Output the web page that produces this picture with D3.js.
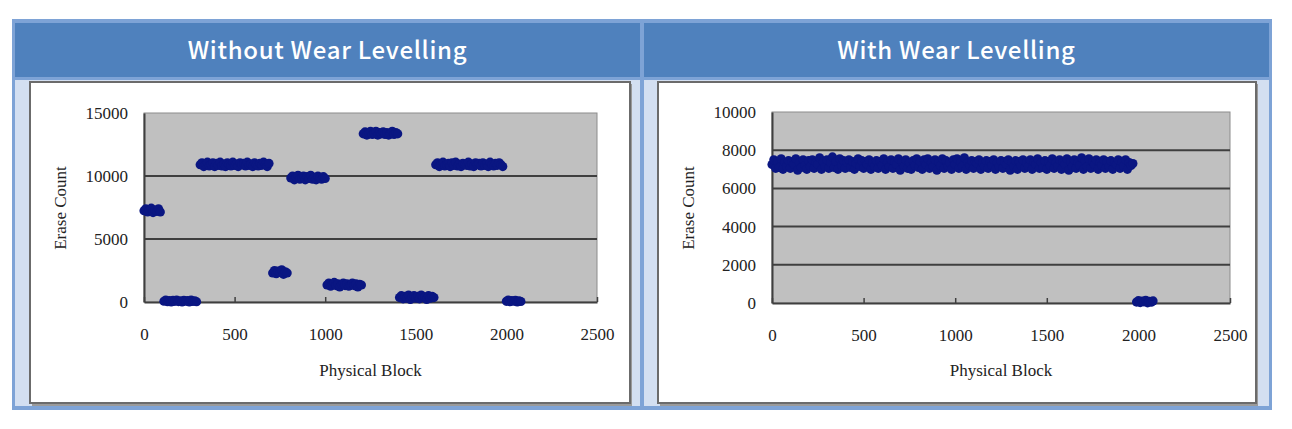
<!DOCTYPE html>
<html>
<head>
<meta charset="utf-8">
<script src="https://cdn.jsdelivr.net/npm/d3@7"></script>
<style>
  body { margin: 0; background: #fff; }
  .tick text { font-family: "Liberation Serif", "Times New Roman", serif; font-size: 17px; fill: #222; }
</style>
</head>
<body>
<div id="chart"></div>
<script>
// chart data
var titles = ["Without Wear Levelling", "With Wear Levelling"];
var xTicks = [0, 500, 1000, 1500, 2000, 2500];
var yTicksWithout = [0, 5000, 10000, 15000];
var yTicksWith = [0, 2000, 4000, 6000, 8000, 10000];

// [physical block, erase count]
var withoutWL = [
  [0,7250],[10,7400],[20,7150],[30,7300],[40,7450],[50,7100],[60,7300],[70,7200],[80,7400],[90,7150],
  [110,60],[120,150],[130,20],[140,110],[150,0],[160,130],[170,50],[180,160],[190,30],[200,100],
  [210,0],[220,140],[230,60],[240,120],[250,10],[260,150],[270,40],[280,100],[290,20],
  [310,10900],[320,11050],[330,10750],[340,10950],[350,11100],[360,10800],[370,10900],[380,11050],[390,10750],[400,11000],
  [410,10850],[420,11100],[430,10800],[440,10950],[450,10750],[460,11050],[470,10900],[480,10800],[490,11100],[500,10850],
  [510,10950],[520,10750],[530,11050],[540,10900],[550,11000],[560,10800],[570,11100],[580,10850],[590,10950],[600,10750],
  [610,11050],[620,10900],[630,10800],[640,11000],[650,10850],[660,11100],[670,10900],[680,10750],[690,11000],
  [710,2300],[720,2500],[730,2250],[740,2450],[750,2350],[760,2550],[770,2200],[780,2400],[790,2300],
  [810,9850],[820,10000],[830,9700],[840,9900],[850,10050],[860,9750],[870,9850],[880,10000],[890,9700],[900,9950],
  [910,9800],[920,10050],[930,9750],[940,9900],[950,9700],[960,10000],[970,9850],[980,9750],[990,9950],[1000,9800],
  [1010,1350],[1020,1500],[1030,1250],[1040,1400],[1050,1550],[1060,1300],[1070,1450],[1080,1200],[1090,1400],[1100,1500],
  [1110,1300],[1120,1450],[1130,1250],[1140,1350],[1150,1500],[1160,1300],[1170,1450],[1180,1200],[1190,1400],[1200,1350],
  [1210,13350],[1220,13500],[1230,13250],[1240,13450],[1250,13550],[1260,13300],[1270,13400],[1280,13550],[1290,13250],[1300,13450],
  [1310,13350],[1320,13500],[1330,13300],[1340,13450],[1350,13250],[1360,13400],[1370,13550],[1380,13300],[1390,13450],[1400,13350],
  [1410,350],[1420,500],[1430,250],[1440,450],[1450,300],[1460,550],[1470,200],[1480,400],[1490,500],[1500,300],
  [1510,450],[1520,250],[1530,550],[1540,350],[1550,400],[1560,200],[1570,500],[1580,300],[1590,450],[1600,350],
  [1610,10900],[1620,11050],[1630,10750],[1640,10950],[1650,11100],[1660,10800],[1670,10900],[1680,11000],[1690,10750],[1700,11050],
  [1710,10850],[1720,11100],[1730,10800],[1740,10950],[1750,10750],[1760,11000],[1770,10900],[1780,10850],[1790,11100],[1800,10800],
  [1810,10950],[1820,10750],[1830,11050],[1840,10900],[1850,11000],[1860,10800],[1870,11050],[1880,10850],[1890,10950],[1900,10750],
  [1910,11100],[1920,10900],[1930,10800],[1940,11000],[1950,10850],[1960,11050],[1970,10900],[1980,10750],
  [2000,50],[2010,150],[2020,20],[2030,120],[2040,60],[2050,140],[2060,0],[2070,100],[2080,40]
];

var withWL = [
  [0,7250],[10,7500],[20,7050],[30,7400],[40,7100],[50,7550],[60,7000],[70,7350],[80,7150],[90,7450],
  [100,7050],[110,7400],[120,7250],[130,7550],[140,6950],[150,7350],[160,7100],[170,7500],[180,7200],[190,7000],
  [200,7450],[210,7150],[220,7500],[230,7050],[240,7350],[250,7250],[260,7600],[270,7000],[280,7400],[290,7150],
  [300,7500],[310,7050],[320,7350],[330,7650],[340,7100],[350,7400],[360,7000],[370,7550],[380,7200],[390,7450],
  [400,7050],[410,7350],[420,7500],[430,7100],[440,7400],[450,7000],[460,7300],[470,7550],[480,7150],[490,7450],
  [500,7050],[510,7400],[520,7250],[530,7500],[540,7000],[550,7350],[560,7150],[570,7450],[580,7050],[590,7400],
  [600,7200],[610,7550],[620,7000],[630,7350],[640,7150],[650,7500],[660,7050],[670,7400],[680,7250],[690,7550],
  [700,6950],[710,7400],[720,7150],[730,7500],[740,7050],[750,7350],[760,7000],[770,7450],[780,7200],[790,7550],
  [800,7100],[810,7400],[820,7000],[830,7500],[840,7250],[850,7550],[860,7050],[870,7350],[880,7150],[890,7500],
  [900,6950],[910,7400],[920,7200],[930,7550],[940,7050],[950,7450],[960,7150],[970,7350],[980,7000],[990,7500],
  [1000,7250],[1010,7550],[1020,7050],[1030,7400],[1040,7150],[1050,7600],[1060,7000],[1070,7350],[1080,7200],[1090,7450],
  [1100,7050],[1110,7400],[1120,7300],[1130,7500],[1140,7000],[1150,7350],[1160,7150],[1170,7450],[1180,7050],[1190,7400],
  [1200,7200],[1210,7500],[1220,7000],[1230,7350],[1240,7150],[1250,7450],[1260,7050],[1270,7400],[1280,7250],[1290,7500],
  [1300,6950],[1310,7350],[1320,7150],[1330,7450],[1340,7000],[1350,7400],[1360,7200],[1370,7500],[1380,7050],[1390,7350],
  [1400,7150],[1410,7500],[1420,7000],[1430,7400],[1440,7250],[1450,7550],[1460,7050],[1470,7350],[1480,7100],[1490,7450],
  [1500,7000],[1510,7400],[1520,7200],[1530,7550],[1540,7050],[1550,7350],[1560,7150],[1570,7500],[1580,7000],[1590,7400],
  [1600,7250],[1610,7550],[1620,6950],[1630,7400],[1640,7150],[1650,7500],[1660,7050],[1670,7350],[1680,7200],[1690,7600],
  [1700,7000],[1710,7450],[1720,7150],[1730,7550],[1740,7050],[1750,7400],[1760,7250],[1770,7500],[1780,7000],[1790,7350],
  [1800,7200],[1810,7500],[1820,7050],[1830,7400],[1840,7150],[1850,7450],[1860,7000],[1870,7350],[1880,7250],[1890,7500],
  [1900,7050],[1910,7400],[1920,7150],[1930,7500],[1940,7000],[1950,7350],[1960,7200],[1970,7300],
  [1990,50],[2000,120],[2010,20],[2020,100],[2030,60],[2040,140],[2050,10],[2060,90],[2070,40],[2080,110]
];

var width = 1292, height = 429;
var svg = d3.select("#chart").append("svg")
    .attr("width", width)
    .attr("height", height);

// outer table frame
svg.append("rect")
    .attr("x", 12).attr("y", 19)
    .attr("width", 1260).attr("height", 391)
    .attr("fill", "#7ea3d6");

var panels = [
  {title: titles[0], data: withoutWL, yTicks: yTicksWithout, yMax: 15000,
   cellX: 15, cellW: 625, boxX: 30, boxW: 600,
   plot: {left: 144, right: 597, top: 113, bottom: 302}, yLabelX: 60},
  {title: titles[1], data: withWL, yTicks: yTicksWith, yMax: 10000,
   cellX: 644, cellW: 625, boxX: 658, boxW: 598,
   plot: {left: 772, right: 1230, top: 112, bottom: 303}, yLabelX: 688}
];

panels.forEach(function(p) {
  // header cell
  svg.append("rect")
      .attr("x", p.cellX).attr("y", 23)
      .attr("width", p.cellW).attr("height", 54)
      .attr("fill", "#4f81bd");
  svg.append("text")
      .attr("x", p.cellX + p.cellW / 2)
      .attr("y", 59)
      .attr("text-anchor", "middle")
      .attr("fill", "#fff")
      .style("font-family", "'Noto Sans CJK JP', 'Noto Sans', sans-serif")
      .style("font-size", "24px")
      .style("font-weight", "500")
      .style("letter-spacing", "0.7px")
      .text(p.title);

  // body cell
  svg.append("rect")
      .attr("x", p.cellX).attr("y", 80)
      .attr("width", p.cellW).attr("height", 326)
      .attr("fill", "#d3dff1");

  // chart box with a little shadow
  svg.append("rect")
      .attr("x", p.boxX + 2).attr("y", 84)
      .attr("width", p.boxW).attr("height", 322)
      .attr("fill", "#9a9a9a");
  svg.append("rect")
      .attr("x", p.boxX).attr("y", 82)
      .attr("width", p.boxW).attr("height", 321)
      .attr("fill", "#fff")
      .attr("stroke", "#6b6b6b")
      .attr("stroke-width", 2);

  var pl = p.plot;
  var x = d3.scaleLinear().domain([0, 2500]).range([pl.left, pl.right]);
  var y = d3.scaleLinear().domain([0, p.yMax]).range([pl.bottom, pl.top]);

  // plot area
  svg.append("rect")
      .attr("x", pl.left).attr("y", pl.top)
      .attr("width", pl.right - pl.left).attr("height", pl.bottom - pl.top)
      .attr("fill", "#c0c0c0")
      .attr("stroke", "#8c8c8c")
      .attr("stroke-width", 1);

  // gridlines
  svg.append("g")
    .selectAll("line")
    .data(p.yTicks.filter(function(d) { return d > 0 && d < p.yMax; }))
    .enter().append("line")
      .attr("x1", pl.left).attr("x2", pl.right)
      .attr("y1", function(d) { return y(d); })
      .attr("y2", function(d) { return y(d); })
      .attr("stroke", "#3f3f3f")
      .attr("stroke-width", 2);

  // axes
  var yAxis = svg.append("g")
      .attr("transform", "translate(" + pl.left + ",0)")
      .call(d3.axisLeft(y).tickValues(p.yTicks).tickSize(0).tickPadding(16).tickFormat(d3.format("d")));
  yAxis.select(".domain").attr("stroke", "#3f3f3f").attr("stroke-width", 2);

  var xAxis = svg.append("g")
      .attr("transform", "translate(0," + pl.bottom + ")")
      .call(d3.axisBottom(x).tickValues(xTicks).tickSizeInner(-5).tickSizeOuter(0).tickPadding(26).tickFormat(d3.format("d")));
  xAxis.select(".domain").attr("stroke", "#3f3f3f").attr("stroke-width", 2);
  xAxis.selectAll(".tick line").attr("stroke", "#3f3f3f").attr("stroke-width", 1.5);

  // points
  svg.append("g")
    .selectAll("circle")
    .data(p.data)
    .enter().append("circle")
      .attr("cx", function(d) { return x(d[0]); })
      .attr("cy", function(d) { return y(d[1]); })
      .attr("r", 4.6)
      .attr("fill", "#0a1682");

  // axis titles
  svg.append("text")
      .attr("x", (pl.left + pl.right) / 2)
      .attr("y", 376)
      .attr("text-anchor", "middle")
      .attr("fill", "#222")
      .style("font-family", "'Liberation Serif', 'Times New Roman', serif")
      .style("font-size", "17px")
      .text("Physical Block");

  svg.append("text")
      .attr("transform", "translate(" + (p.yLabelX + 6) + "," + 208 + ") rotate(-90)")
      .attr("text-anchor", "middle")
      .attr("fill", "#222")
      .style("font-family", "'Liberation Serif', 'Times New Roman', serif")
      .style("font-size", "17px")
      .text("Erase Count");
});
</script>
</body>
</html>
